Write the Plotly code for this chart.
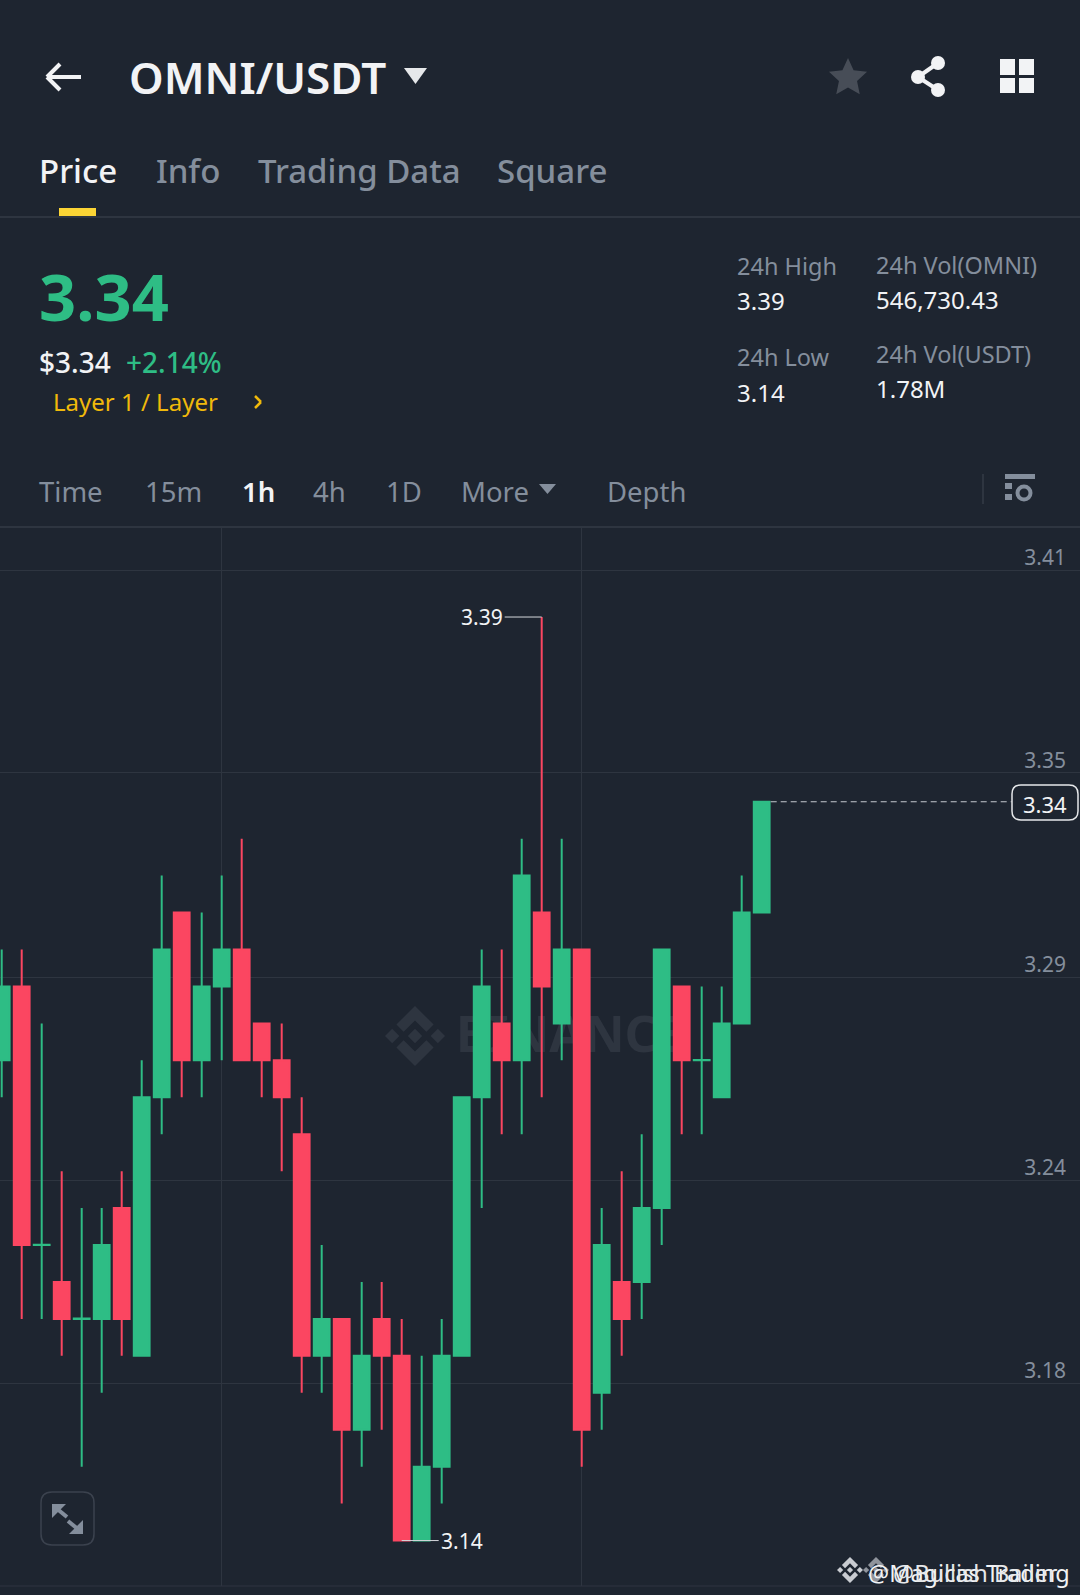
import math
import plotly.graph_objects as go

# Candle data (1h)
opens = [3.27, 3.29, 3.22, 3.21, 3.20, 3.20, 3.23, 3.19, 3.26, 3.31, 3.27, 3.29, 3.30,
         3.28, 3.27, 3.25, 3.19, 3.20, 3.17, 3.20, 3.19, 3.14, 3.16, 3.19, 3.26, 3.28,
         3.27, 3.31, 3.28, 3.30, 3.18, 3.21, 3.21, 3.23, 3.29, 3.27, 3.26, 3.28, 3.31]
highs = [3.30, 3.30, 3.28, 3.24, 3.23, 3.23, 3.24, 3.27, 3.32, 3.31, 3.31, 3.32, 3.33,
         3.28, 3.28, 3.26, 3.22, 3.20, 3.21, 3.21, 3.20, 3.19, 3.20, 3.26, 3.30, 3.30,
         3.33, 3.39, 3.33, 3.30, 3.23, 3.24, 3.25, 3.30, 3.29, 3.29, 3.29, 3.32, 3.34]
lows = [3.26, 3.20, 3.20, 3.19, 3.16, 3.18, 3.19, 3.19, 3.25, 3.26, 3.26, 3.27, 3.27,
        3.26, 3.24, 3.18, 3.18, 3.15, 3.16, 3.17, 3.14, 3.14, 3.15, 3.19, 3.23, 3.25,
        3.25, 3.26, 3.27, 3.16, 3.17, 3.19, 3.20, 3.22, 3.25, 3.25, 3.26, 3.28, 3.31]
# the three dojis close a hair above their open, they are drawn green
closes = [3.29, 3.22, 3.2201, 3.20, 3.2001, 3.22, 3.20, 3.26, 3.30, 3.27, 3.29, 3.30, 3.27,
          3.27, 3.26, 3.19, 3.20, 3.17, 3.19, 3.19, 3.14, 3.16, 3.19, 3.26, 3.29, 3.27,
          3.32, 3.29, 3.30, 3.17, 3.22, 3.20, 3.23, 3.30, 3.27, 3.2701, 3.28, 3.31, 3.34]
candle_x = list(range(len(opens)))

price_ticks = [3.4027, 3.3478, 3.2925, 3.2376, 3.1826]
price_labels = ["3.41", "3.35", "3.29", "3.24", "3.18"]
time_ticks = [11, 29]

last_price = 3.34
last_x = [38.45, 50.5]
high_point = (27, 3.39)
low_point = (20, 3.14)

tabs = [("Price", 38), ("Info", 155), ("Trading Data", 257), ("Square", 496)]
intervals = [("Time", 38), ("15m", 144), ("1h", 241), ("4h", 312), ("1D", 385), ("More", 460), ("Depth", 606)]
stats = [("24h High", 736, 266), ("24h Vol(OMNI)", 875, 265), ("24h Low", 736, 357), ("24h Vol(USDT)", 875, 354)]
stat_values = [("3.39", 736, 300), ("546,730.43", 875, 299), ("3.14", 736, 392), ("1.78M", 875, 389)]

W, H = 1080, 1595
BG = "#1e2530"
GRID = "#2e3540"
GREEN = "#2ebd85"
RED = "#fb4661"
GREY = "#848e9c"
WHITE = "#f2f3f5"
FONT = "Noto Sans"


def fx(x):
    return x / W


def fy(y):
    return 1 - y / H


def poly(points):
    return "M " + " L ".join(f"{fx(x):.5f},{fy(y):.5f}" for x, y in points) + " Z"


def fill_shape(points, color, layer="above"):
    return dict(type="path", xref="paper", yref="paper", path=poly(points),
                fillcolor=color, line_width=0, layer=layer)


def line_shape(x0, y0, x1, y1, color, width, layer="above"):
    return dict(type="line", xref="paper", yref="paper", x0=fx(x0), y0=fy(y0), x1=fx(x1), y1=fy(y1),
                line=dict(color=color, width=width), layer=layer)


def circle_shape(cx, cy, r, fill, line_color=None, width=0):
    return dict(type="circle", xref="paper", yref="paper",
                x0=fx(cx - r), x1=fx(cx + r), y0=fy(cy + r), y1=fy(cy - r),
                fillcolor=fill, line=dict(color=line_color or fill, width=width))


def rect_shape(x0, y0, x1, y1, color):
    return fill_shape([(x0, y0), (x1, y0), (x1, y1), (x0, y1)], color)


def rounded(x0, y0, x1, y1, r, color, width):
    a, b, c, d = fx(x0), fx(x1), fy(y0), fy(y1)
    rx, ry = r / W, r / H
    path = (f"M {a + rx},{c} L {b - rx},{c} Q {b},{c} {b},{c - ry} L {b},{d + ry} Q {b},{d} {b - rx},{d} "
            f"L {a + rx},{d} Q {a},{d} {a},{d + ry} L {a},{c - ry} Q {a},{c} {a + rx},{c} Z")
    return dict(type="path", xref="paper", yref="paper", path=path, line=dict(color=color, width=width))


def logo(cx, cy, s, color, layer="above"):
    parts = []
    for dx, dy in [(0, 0), (-0.76, 0), (0.76, 0)]:
        parts.append([(dx, dy - 0.24), (dx + 0.24, dy), (dx, dy + 0.24), (dx - 0.24, dy)])
    top = [(0, -1), (0.62, -0.38), (0.38, -0.14), (0, -0.52), (-0.38, -0.14), (-0.62, -0.38)]
    parts.append(top)
    parts.append([(x, -y) for x, y in top])
    return [fill_shape([(cx + x * s, cy + y * s) for x, y in p], color, layer) for p in parts]


def label(text, x, y, size, color, weight=400, anchor="left"):
    return dict(text=text, x=fx(x), y=fy(y), xref="paper", yref="paper", showarrow=False,
                xanchor=anchor, yanchor="middle", borderpad=0,
                font=dict(family=FONT, size=size, color=color, weight=weight))


fig = go.Figure()

fig.add_trace(go.Candlestick(
    x=candle_x, open=opens, high=highs, low=lows, close=closes,
    increasing=dict(line=dict(color=GREEN, width=2), fillcolor=GREEN),
    decreasing=dict(line=dict(color=RED, width=2), fillcolor=RED),
    whiskerwidth=0, hoverinfo="skip",
))

# Dashed last price line
fig.add_trace(go.Scatter(x=last_x, y=[last_price, last_price], mode="lines",
                         line=dict(color="#c4c8cd", width=1.2, dash="6px,4px"), hoverinfo="skip"))

shapes = []
annotations = []

# Header
annotations.append(label("OMNI/USDT", 128, 77, 44, WHITE, 600))
shapes.append(line_shape(47, 77, 81, 77, WHITE, 4))
shapes.append(line_shape(47, 77, 60, 64, WHITE, 4))
shapes.append(line_shape(47, 77, 60, 90, WHITE, 4))
shapes.append(fill_shape([(404, 68), (427, 68), (415.5, 84)], "#e6e8ea"))

star = []
for k in range(10):
    r = 20 if k % 2 == 0 else 9.5
    a = -math.pi / 2 + k * math.pi / 5
    star.append((848 + r * math.cos(a), 78 + r * math.sin(a)))
shapes.append(fill_shape(star, "#474d57"))

shapes.append(line_shape(918, 77, 938, 63, WHITE, 4))
shapes.append(line_shape(918, 77, 938, 90, WHITE, 4))
shapes.append(circle_shape(918, 77, 7, WHITE))
shapes.append(circle_shape(938, 63, 7, WHITE))
shapes.append(circle_shape(938, 90, 7, WHITE))

shapes.append(rect_shape(1000, 59, 1015, 75, WHITE))
shapes.append(rect_shape(1019, 59, 1034, 75, WHITE))
shapes.append(rect_shape(1000, 78, 1015, 93, WHITE))
shapes.append(rect_shape(1019, 78, 1034, 93, WHITE))

# Tabs
for i, (name, x) in enumerate(tabs):
    annotations.append(label(name, x, 171, 33, WHITE if i == 0 else GREY, 500))
shapes.append(rect_shape(59, 208, 96, 216, "#fcd535"))
shapes.append(line_shape(0, 217, W, 217, GRID, 2))

# Price block
annotations.append(label("3.34", 38, 296, 65, GREEN, 700))
annotations.append(label("$3.34", 38, 362, 28, WHITE, 500))
annotations.append(label("+2.14%", 125, 362, 28, GREEN, 500))
annotations.append(label("Layer 1 / Layer", 52, 402, 24, "#f0b90b"))
shapes.append(line_shape(255, 396, 261, 402, "#f0b90b", 2.5))
shapes.append(line_shape(261, 402, 255, 408, "#f0b90b", 2.5))

for text, x, y in stats:
    annotations.append(label(text, x, y, 23.5, GREY))
for text, x, y in stat_values:
    annotations.append(label(text, x, y, 24, WHITE))

# Interval row
for name, x in intervals:
    if name == "1h":
        annotations.append(label(name, x, 491, 27.5, WHITE, 600))
    else:
        annotations.append(label(name, x, 491, 27.5, GREY))
shapes.append(fill_shape([(539, 484), (556, 484), (547.5, 494)], GREY))
shapes.append(line_shape(983, 474, 983, 504, GRID, 2))
shapes.append(rect_shape(1005, 474, 1035, 479, GREY))
shapes.append(rect_shape(1005, 483, 1012, 489, GREY))
shapes.append(rect_shape(1005, 494, 1012, 500, GREY))
shapes.append(circle_shape(1024, 493, 6.5, BG, GREY, 4))
shapes.append(line_shape(0, 527, W, 527, GRID, 2))

# Watermark goes under the candles
shapes.extend(logo(415, 1036, 30, "#2e3540", "below"))
shapes.append(dict(type="rect", xref="paper", yref="paper", x0=fx(450), x1=fx(700), y0=fy(1060), y1=fy(1012),
                   line_width=0, layer="below",
                   label=dict(text="<b>BINANCE</b>", textposition="middle left",
                              font=dict(family=FONT, size=50, color="#2e3540"))))

# Last price tag
shapes.append(rounded(1012, 785, 1078, 820, 9, "#e6e8ea", 1.5))
annotations.append(label("3.34", 1045, 804, 22, WHITE, 400, "center"))

# High and low markers
annotations.append(dict(text="3.39", x=high_point[0], y=high_point[1], xref="x", yref="y", ax=-37, ay=0,
                        axref="pixel", ayref="pixel", showarrow=True, arrowhead=0, arrowwidth=1, arrowcolor="#d5d8dc",
                        xanchor="right", yanchor="middle", standoff=0,
                        font=dict(family=FONT, size=21, color=WHITE)))
annotations.append(dict(text="3.14", x=low_point[0], y=low_point[1], xref="x", yref="y", ax=37, ay=0,
                        axref="pixel", ayref="pixel", showarrow=True, arrowhead=0, arrowwidth=1, arrowcolor="#d5d8dc",
                        xanchor="left", yanchor="middle", standoff=0,
                        font=dict(family=FONT, size=21, color=WHITE)))

# Expand button
shapes.append(rounded(41, 1492, 94, 1545, 11, "#3b424e", 1.5))
shapes.append(fill_shape([(52, 1504), (66, 1504), (52, 1518)], GREY))
shapes.append(line_shape(56, 1508, 67, 1517, GREY, 4))
shapes.append(fill_shape([(83, 1534), (69, 1534), (83, 1520)], GREY))
shapes.append(line_shape(79, 1530, 68, 1521, GREY, 4))

# Overlapping reposts in the corner
shapes.extend(logo(850, 1570, 13, "#c9ccd1"))
shapes.extend(logo(876, 1570, 13, "#8f949c"))
annotations.append(label("@Magicas Trading", 867, 1573, 23.5, WHITE, 400))
annotations.append(label("@Bullish Bailer", 892, 1573, 23.5, "#e6e8ea", 400))
shapes.append(line_shape(0, 1586, W, 1586, GRID, 1))

fig.update_layout(
    width=W, height=H,
    margin=dict(l=0, r=0, t=0, b=0),
    paper_bgcolor=BG, plot_bgcolor=BG,
    showlegend=False,
    boxgap=0.21, boxgroupgap=0,
    shapes=shapes, annotations=annotations,
    xaxis=dict(range=[-0.085, 53.915], tickvals=time_ticks, showticklabels=False, ticks="",
               showgrid=True, gridcolor=GRID, gridwidth=1, zeroline=False,
               rangeslider=dict(visible=False), fixedrange=True),
    yaxis=dict(domain=[fy(1586), fy(528)], range=[3.1277, 3.4141], side="right",
               tickvals=price_ticks, ticktext=price_labels, ticks="",
               ticklabelposition="inside top", ticklabelstandoff=11, ticklabelshift=2,
               tickfont=dict(family=FONT, size=21, color=GREY),
               showgrid=True, gridcolor=GRID, gridwidth=1, zeroline=False, fixedrange=True),
)

fig.write_html("out.html", config=dict(displayModeBar=False),
               post_script=f"document.body.style.margin='0';document.body.style.background='{BG}';")
